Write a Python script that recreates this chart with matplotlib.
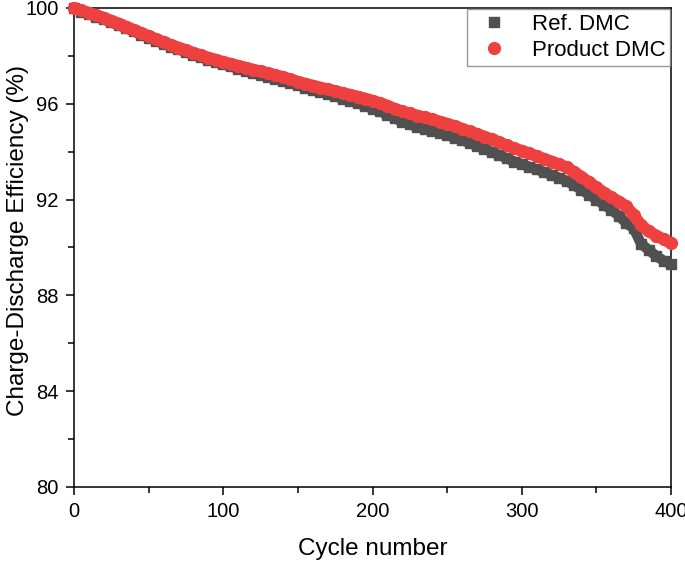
import matplotlib
matplotlib.use("Agg")
import matplotlib.pyplot as plt
from matplotlib.ticker import MultipleLocator
from matplotlib.lines import Line2D

plt.rcParams['font.family'] = ['Liberation Sans', 'DejaVu Sans']

cycles = list(range(0, 401, 5))

ref_dmc = [99.98, 99.85, 99.74, 99.63, 99.52, 99.40, 99.28, 99.15, 99.02, 98.89,
           98.76, 98.63, 98.51, 98.39, 98.27, 98.16, 98.05, 97.94, 97.84, 97.75,
           97.65, 97.56, 97.47, 97.38, 97.30, 97.21, 97.13, 97.04, 96.96, 96.87,
           96.77, 96.68, 96.59, 96.50, 96.41, 96.32, 96.22, 96.12, 96.02, 95.92,
           95.80, 95.68, 95.55, 95.40, 95.25, 95.14, 95.04, 94.95, 94.87, 94.78,
           94.69, 94.59, 94.48, 94.37, 94.24, 94.12, 93.99, 93.86, 93.72, 93.59,
           93.48, 93.37, 93.26, 93.15, 93.03, 92.91, 92.78, 92.60, 92.41, 92.21,
           92.00, 91.79, 91.58, 91.32, 91.02, 90.80, 90.15, 89.90, 89.65, 89.45,
           89.30]

product_dmc = [100.00, 99.90, 99.80, 99.70, 99.59, 99.47, 99.35, 99.22, 99.09, 98.96,
               98.83, 98.70, 98.58, 98.46, 98.35, 98.24, 98.13, 98.03, 97.93, 97.84,
               97.75, 97.67, 97.59, 97.51, 97.43, 97.35, 97.28, 97.20, 97.12, 97.02,
               96.92, 96.84, 96.76, 96.68, 96.60, 96.53, 96.45, 96.38, 96.30, 96.22,
               96.13, 96.03, 95.92, 95.79, 95.68, 95.60, 95.51, 95.43, 95.35, 95.26,
               95.17, 95.07, 94.96, 94.85, 94.74, 94.63, 94.51, 94.39, 94.26, 94.14,
               94.04, 93.93, 93.81, 93.70, 93.59, 93.47, 93.35, 93.15, 92.95, 92.73,
               92.51, 92.29, 92.10, 91.92, 91.72, 91.35, 90.93, 90.68, 90.50, 90.34,
               90.18]

gray = '#505050'
red = '#EF4040'

fig = plt.figure(figsize=(6.85, 5.63), dpi=100)
ax = fig.add_axes([74/685, 76/563, 597/685, 479/563])

# dense markers drawn as a continuous band (points joined by a thick stroke)
ax.plot(cycles, ref_dmc, linestyle='-', linewidth=7.5, color=gray,
        solid_capstyle='butt', solid_joinstyle='miter', clip_on=False, zorder=3)
ax.plot(cycles, ref_dmc, linestyle='none', marker='s', markersize=7.5,
        color=gray, markeredgecolor=gray, clip_on=False, zorder=3)
ax.plot(cycles, product_dmc, linestyle='-', linewidth=8.5, color=red,
        solid_capstyle='round', clip_on=False, zorder=4)
ax.plot(cycles, product_dmc, linestyle='none', marker='o', markersize=8.5,
        color=red, markeredgecolor=red, clip_on=False, zorder=4)

ax.set_xlim(0, 400)
ax.set_ylim(80, 100)
ax.xaxis.set_major_locator(MultipleLocator(100))
ax.xaxis.set_minor_locator(MultipleLocator(50))
ax.yaxis.set_major_locator(MultipleLocator(4))
ax.yaxis.set_minor_locator(MultipleLocator(2))
ax.tick_params(which='major', direction='out', length=6, width=1.1, labelsize=14.5, pad=5)
ax.tick_params(which='minor', direction='out', length=4, width=1.1)
ax.tick_params(top=False, right=False, which='both')
for s in ax.spines.values():
    s.set_linewidth(1.1)

ax.set_xlabel('Cycle number', fontsize=17.5, labelpad=12)
ax.set_ylabel('Charge-Discharge Efficiency (%)', fontsize=17.5)
ax.yaxis.set_label_coords(-(74 - 29) / 597, 0.515)

handles = [Line2D([], [], linestyle='none', marker='s', markersize=7.5, color=gray),
           Line2D([], [], linestyle='none', marker='o', markersize=8.5, color=red)]
leg = ax.legend(handles, ['Ref. DMC', 'Product DMC'], loc='upper right', fontsize=16,
                frameon=True, fancybox=False, edgecolor='#808080', borderpad=0.2,
                handletextpad=0.7, labelspacing=0.25, borderaxespad=0.05,
                handlelength=2.0)
leg.get_frame().set_linewidth(1.0)

fig.savefig('out.png', dpi=100)
